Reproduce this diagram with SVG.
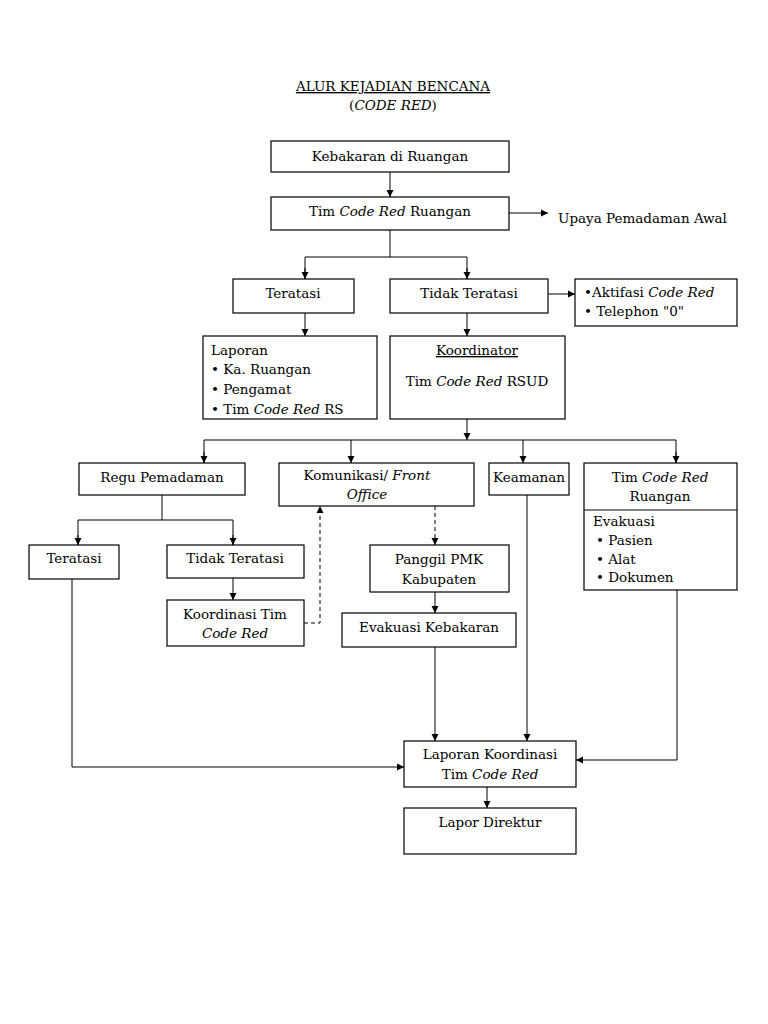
<svg xmlns="http://www.w3.org/2000/svg" width="768" height="1024" viewBox="0 0 768 1024">
<style>
text{font-family:"DejaVu Serif","Liberation Serif",serif;font-size:13.5px;fill:#000}
.b{fill:#fff;stroke:#000;stroke-width:1.2}
.l{fill:none;stroke:#000;stroke-width:1}
.d{fill:none;stroke:#000;stroke-width:1;stroke-dasharray:4,3}
.m{text-anchor:middle}
</style>
<defs><marker id="a" markerWidth="8" markerHeight="8" refX="7" refY="4" orient="auto" markerUnits="userSpaceOnUse"><path d="M0,0.5 L7,4 L0,7.5z" fill="#000"/></marker></defs>
<rect width="768" height="1024" fill="#fff"/>
<g id="title">
<text x="393" y="91" class="m" text-decoration="underline">ALUR KEJADIAN BENCANA</text>
<text x="393" y="110" class="m">(<tspan font-style="italic">CODE RED</tspan>)</text>
</g>
<g id="connectors">
<path class="l" d="M390,172V197" marker-end="url(#a)"/>
<path class="l" d="M509,213H548" marker-end="url(#a)"/>
<path class="l" d="M390,230V257"/>
<path class="l" d="M305,279V257H467V279" />
<path class="l" d="M305,268V279" marker-end="url(#a)"/>
<path class="l" d="M467,268V279" marker-end="url(#a)"/>
<path class="l" d="M548,294H575" marker-end="url(#a)"/>
<path class="l" d="M305,313V336" marker-end="url(#a)"/>
<path class="l" d="M467,313V336" marker-end="url(#a)"/>
<path class="l" d="M467,419V440" marker-end="url(#a)"/>
<path class="l" d="M204,463V440H676V463"/>
<path class="l" d="M204,452V463" marker-end="url(#a)"/>
<path class="l" d="M351,452V463" marker-end="url(#a)"/>
<path class="l" d="M351,440V452"/>
<path class="l" d="M523,440V463" marker-end="url(#a)"/>
<path class="l" d="M676,452V463" marker-end="url(#a)"/>
<path class="l" d="M162,495V520M78,545V520H233V545"/>
<path class="l" d="M78,535V545" marker-end="url(#a)"/>
<path class="l" d="M233,535V545" marker-end="url(#a)"/>
<path class="l" d="M233,578V600" marker-end="url(#a)"/>
<path class="d" d="M304,623H320V506" marker-end="url(#a)"/>
<path class="d" d="M435,506V545" marker-end="url(#a)"/>
<path class="l" d="M435,592V613" marker-end="url(#a)"/>
<path class="l" d="M435,647V741" marker-end="url(#a)"/>
<path class="l" d="M527,495V741" marker-end="url(#a)"/>
<path class="l" d="M72,579V767H404" marker-end="url(#a)"/>
<path class="l" d="M677,590V760H576" marker-end="url(#a)"/>
<path class="l" d="M487,787V808" marker-end="url(#a)"/>
</g>
<g id="n1"><rect class="b" x="271" y="141" width="238" height="31"/><text x="390" y="161" class="m">Kebakaran di Ruangan</text></g>
<g id="n2"><rect class="b" x="271" y="197" width="238" height="33"/><text x="390" y="216" class="m">Tim <tspan font-style="italic">Code Red</tspan> Ruangan</text></g>
<g id="n3"><text x="558" y="223">Upaya Pemadaman Awal</text></g>
<g id="n4"><rect class="b" x="233" y="279" width="121" height="34"/><text x="293" y="298" class="m">Teratasi</text></g>
<g id="n5"><rect class="b" x="390" y="279" width="158" height="34"/><text x="469" y="298" class="m">Tidak Teratasi</text></g>
<g id="n6"><rect class="b" x="575" y="279" width="162" height="47"/><text x="584" y="297">•Aktifasi <tspan font-style="italic">Code Red</tspan></text><text x="584" y="316">•  Telephon "0"</text></g>
<g id="n7"><rect class="b" x="203" y="336" width="174" height="83"/><text x="211" y="355">Laporan</text><text x="211" y="374">• Ka. Ruangan</text><text x="211" y="394">• Pengamat</text><text x="211" y="414">• Tim <tspan font-style="italic">Code Red</tspan> RS</text></g>
<g id="n8"><rect class="b" x="390" y="336" width="175" height="83"/><text x="477" y="355" class="m" text-decoration="underline">Koordinator</text><text x="477" y="386" class="m">Tim <tspan font-style="italic">Code Red</tspan> RSUD</text></g>
<g id="n9"><rect class="b" x="79" y="463" width="166" height="32"/><text x="162" y="482" class="m">Regu Pemadaman</text></g>
<g id="n10"><rect class="b" x="279" y="463" width="195" height="43"/><text x="367" y="480" class="m">Komunikasi/ <tspan font-style="italic">Front</tspan></text><text x="367" y="499" class="m" font-style="italic">Office</text></g>
<g id="n11"><rect class="b" x="489" y="463" width="80" height="32"/><text x="529" y="482" class="m">Keamanan</text></g>
<g id="n12"><rect class="b" x="584" y="463" width="153" height="127"/><path class="l" d="M584,510H737"/><text x="660" y="482" class="m">Tim <tspan font-style="italic">Code Red</tspan></text><text x="660" y="501" class="m">Ruangan</text><text x="593" y="526">Evakuasi</text><text x="596" y="545">•  Pasien</text><text x="596" y="564">•  Alat</text><text x="596" y="582">•  Dokumen</text></g>
<g id="n13"><rect class="b" x="29" y="545" width="90" height="34"/><text x="74" y="563" class="m">Teratasi</text></g>
<g id="n14"><rect class="b" x="167" y="545" width="137" height="33"/><text x="235" y="563" class="m">Tidak Teratasi</text></g>
<g id="n15"><rect class="b" x="167" y="600" width="137" height="46"/><text x="235" y="619" class="m">Koordinasi Tim</text><text x="235" y="638" class="m" font-style="italic">Code Red</text></g>
<g id="n16"><rect class="b" x="370" y="545" width="139" height="47"/><text x="439" y="564" class="m">Panggil PMK</text><text x="439" y="584" class="m">Kabupaten</text></g>
<g id="n17"><rect class="b" x="342" y="613" width="174" height="34"/><text x="429" y="632" class="m">Evakuasi Kebakaran</text></g>
<g id="n18"><rect class="b" x="404" y="741" width="172" height="46"/><text x="490" y="759" class="m">Laporan Koordinasi</text><text x="490" y="779" class="m">Tim <tspan font-style="italic">Code Red</tspan></text></g>
<g id="n19"><rect class="b" x="404" y="808" width="172" height="46"/><text x="490" y="827" class="m">Lapor Direktur</text></g>
</svg>
